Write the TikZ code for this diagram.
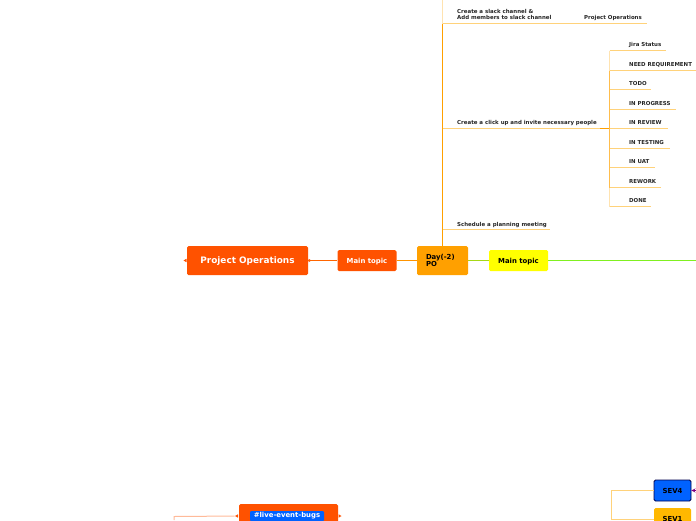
\documentclass[tikz,border=0pt]{standalone}
\usepackage{fontspec}
\setmainfont{DejaVu Sans}
\usepackage{tikz}
\usetikzlibrary{positioning}
\usetikzlibrary{shapes.geometric}

\definecolor{rootorange}{HTML}{FF5200}
\definecolor{dayorange}{HTML}{FFA000}
\definecolor{sunyellow}{HTML}{FFFF00}
\definecolor{limeline}{HTML}{80F020}
\definecolor{softline}{HTML}{FFD27A}
\definecolor{paleline}{HTML}{FFE3B0}
\definecolor{sevblue}{HTML}{0062FF}
\definecolor{sevamber}{HTML}{FFB800}

\tikzset{
    topic/.style={shape=rectangle, rounded corners=1.5pt, inner sep=0pt, font=\bfseries\fontsize{6.9}{7.5}\selectfont},
    onerow/.style={text depth=0pt},
    leaf/.style={anchor=west, inner sep=0pt, align=left, yshift=-0.5pt, font=\bfseries\fontsize{5.45}{6.6}\selectfont, text=black!85},
    under/.style={color=softline, line width=1pt},
    trunk/.style={color=dayorange, line width=1pt},
    tick/.style={shape=regular polygon, regular polygon sides=3, inner sep=0pt, minimum size=4pt, fill=rootorange},
}

\begin{document}
\begin{tikzpicture}[x=1pt, y=-1pt]
    \useasboundingbox (0,0) rectangle (696,520);
    \clip (0,0) rectangle (696,520);

    \coordinate (topend) at (442.5,0);
    \coordinate (fadeend) at (442.5,23.5);
    \coordinate (greenend) at (696,260.5);

    % centre row
    \node[topic, onerow, minimum width=121pt, minimum height=29pt, fill=rootorange, text=white, font=\bfseries\fontsize{8.9}{10}\selectfont] (root) at (247.5,260.5) {Project Operations};
    \node[topic, onerow, minimum width=59pt, minimum height=21pt, fill=rootorange, text=white] (maintopic) at (367,260.5) {Main topic};
    \node[topic, minimum width=51pt, minimum height=29pt, fill=dayorange, text=black, align=left, text width=33pt] (day) at (442.5,260.5) {Day(-2)\\PO};
    \node[topic, onerow, minimum width=59pt, minimum height=21pt, fill=sunyellow, text=black] (yellowtopic) at (518.5,260.5) {Main topic};

    \node[tick, shape border rotate=90, anchor=center] (rootleft) at (185.5,260.5) {};
    \node[tick, shape border rotate=-90, anchor=center] (rootright) at (309.5,260.5) {};

    \draw[color=rootorange!75!dayorange, line width=1pt] (root) -- (maintopic);
    \draw[color=dayorange!85!rootorange, line width=1pt] (maintopic) -- (day);
    \draw[color=limeline!70!dayorange, line width=1pt] (day) -- (yellowtopic);
    \draw[color=limeline, line width=1.2pt] (yellowtopic) -- (greenend);
    \draw[trunk] (fadeend) -- (day.north -| fadeend);
    \draw[color=paleline, line width=1pt] (topend) -- (fadeend);

    % left branches of the day topic
    \node[leaf] (slack) at (457,14) {Create a slack channel \&\\Add members to slack channel};
    \node[leaf] (slackpo) at (584,17.5) {Project Operations};
    \coordinate (slackend) at (647,23.5);
    \draw[under] (fadeend) -- (slackend);

    \node[leaf] (clickup) at (457,122.5) {Create a click up and invite necessary people};
    \coordinate (clickstart) at (442.5,128.5);
    \coordinate (clickend) at (600,128.5);
    \coordinate (fork) at (609.5,128.5);
    \draw[under] (clickstart) -- (clickend);
    \draw[color=dayorange, line width=1.2pt] (clickend) -- (fork);

    \node[leaf] (planning) at (457,224.5) {Schedule a planning meeting};
    \coordinate (planstart) at (442.5,229.5);
    \coordinate (planend) at (550,229.5);
    \draw[under] (planstart) -- (planend);

    % status list
    \coordinate (forktop) at (609.5,50.5);
    \coordinate (forkhigh) at (609.5,70.5);
    \coordinate (forklow) at (609.5,187.5);
    \coordinate (forkbottom) at (609.5,206.5);
    \draw[color=paleline, line width=1pt] (forktop) -- (forkhigh);
    \draw[trunk, color=dayorange!70] (forkhigh) -- (forklow);
    \draw[color=paleline, line width=1pt] (forklow) -- (forkbottom);
    \foreach \name/\y/\xend in {Jira Status/44/666, NEED REQUIREMENT/64/696, TODO/83/651, IN PROGRESS/103/676, IN REVIEW/122/668, IN TESTING/142/670, IN UAT/161/655, REWORK/181/661, DONE/200/651}{
        \pgfmathsetmacro{\yline}{\y+6.5}
        \pgfmathsetmacro{\ytext}{\y+0.5}
        \node[leaf] (status\y) at (629,\ytext) {\name};
        \coordinate (statusstart\y) at (609.5,\yline);
        \coordinate (statusend\y) at (\xend,\yline);
        \draw[under] (statusstart\y) -- (statusend\y);
    };

    % bottom right
    \node[topic, minimum width=37pt, minimum height=21pt, fill=sevblue, draw=black!70!blue, line width=0.8pt, text=black] (sevfour) at (672.5,490.5) {SEV4};
    \node[topic, minimum width=37pt, minimum height=22pt, fill=sevamber, text=black] (sevone) at (672.5,519) {SEV1};
    \coordinate (sevfork) at (611.5,490.5);
    \coordinate (sevlow) at (611.5,519);
    \coordinate (sevstub) at (696,490.5);
    \draw[color=softline, line width=1pt] (sevfour) -- (sevfork) -- (sevlow) -- (sevone);
    \draw[color=violet, line width=0.8pt, <-, >=stealth] (sevfour) -- (sevstub);

    % bottom left
    \node[topic, minimum width=99pt, minimum height=24pt, fill=rootorange] (bugsbox) at (288.5,516) {};
    \node[topic, minimum width=74pt, minimum height=10pt, fill=sevblue, text=white, rounded corners=1pt] (bugs) at (287,516) {\#live-event-bugs};
    \node[tick, shape border rotate=90, anchor=center] (bugsleft) at (237,516) {};
    \node[tick, shape border rotate=-90, anchor=center] (bugsright) at (339.5,516) {};
    \coordinate (bugscorner) at (174,516.5);
    \coordinate (bugsdown) at (174,520);
    \draw[color=rootorange!40, line width=1pt] (bugsleft) -- (bugscorner) -- (bugsdown);
\end{tikzpicture}
\end{document}
